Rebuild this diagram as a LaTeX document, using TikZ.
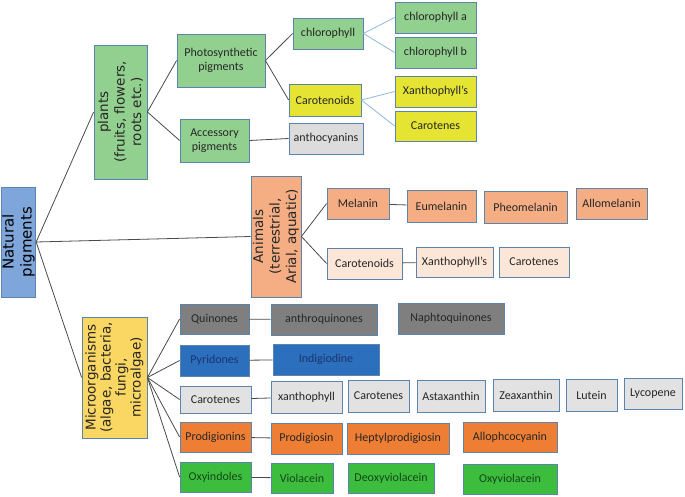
\documentclass[tikz,border=0pt]{standalone}
\usepackage{fontspec}
\setmainfont{Carlito}
\newfontfamily\rotfont{DejaVu Sans}
\usepackage{xcolor}
\usepackage{tikz}

\definecolor{edgeblue}{HTML}{5A84AE}
\definecolor{linkgray}{HTML}{4A4A4A}
\definecolor{linkblue}{HTML}{8DB8DA}
\definecolor{natblue}{HTML}{7FA6DB}
\definecolor{leafgreen}{HTML}{92D08F}
\definecolor{lemon}{HTML}{E6E433}
\definecolor{paleGray}{HTML}{DCDCDC}
\definecolor{peach}{HTML}{F5AE84}
\definecolor{palePeach}{HTML}{FCE6D8}
\definecolor{microYellow}{HTML}{FAD662}
\definecolor{darkGray}{HTML}{7F7F7F}
\definecolor{pyrBlue}{HTML}{2B6FBD}
\definecolor{pyrText}{HTML}{1C3470}
\definecolor{lightGray}{HTML}{E2E2E2}
\definecolor{orangeBox}{HTML}{EE7E33}
\definecolor{greenBox}{HTML}{3DBD3D}
\definecolor{greenText}{HTML}{17451A}

\tikzset{
  pbox/.style={draw=edgeblue, line width=0.8pt, inner sep=1pt, align=center,
    minimum height=31pt, text=black!85, font=\fontsize{12}{14}\selectfont},
  vbox/.style={pbox, rotate=90, font=\rotfont\fontsize{13.5}{16.5}\selectfont},
  link/.style={draw=linkgray, line width=0.8pt},
  sublink/.style={draw=linkblue, line width=0.8pt},
}

\begin{document}
\begin{tikzpicture}[x=1pt,y=-1pt]
\useasboundingbox (0,0) rectangle (685,497);

% root and first level
\node[vbox, fill=natblue, text=black, minimum width=110pt, minimum height=31pt, font=\rotfont\fontsize{15}{18}\selectfont] (nat) at (18.5,242) {Natural\\pigments};
\node[vbox, fill=leafgreen, minimum width=134pt, minimum height=53pt] (plants) at (120.5,112) {plants\\(fruits, flowers,\\roots etc.)};
\node[vbox, fill=peach, minimum width=121pt, minimum height=50pt] (animals) at (276,236.5) {Animals\\(terrestrial,\\Arial, aquatic)};
\node[vbox, fill=microYellow, minimum width=121pt, minimum height=65pt, font=\rotfont\fontsize{13.5}{15}\selectfont] (micro) at (114.5,377.5) {Microorganisms\\(algae, bacteria,\\fungi,\\microalgae)};

% plants
\node[pbox, fill=leafgreen, minimum width=88pt, minimum height=53pt] (photo) at (221,60.5) {Photosynthetic\\pigments};
\node[pbox, fill=leafgreen, minimum width=69pt, minimum height=43pt] (access) at (214.5,140.5) {Accessory\\pigments};
\node[pbox, fill=leafgreen, minimum width=70pt] (chl) at (328,33.5) {chlorophyll};
\node[pbox, fill=lemon, minimum width=72pt, minimum height=32pt] (pcarot) at (325,100) {Carotenoids};
\node[pbox, fill=paleGray, minimum width=74pt] (antho) at (326,138.5) {anthocyanins};
\node[pbox, fill=leafgreen, minimum width=81pt] (chla) at (435.5,17.5) {chlorophyll a};
\node[pbox, fill=leafgreen, minimum width=81pt] (chlb) at (435.5,52.5) {chlorophyll b};
\node[pbox, fill=lemon, minimum width=81pt] (pxan) at (435.5,91.5) {Xanthophyll's};
\node[pbox, fill=lemon, minimum width=81pt, minimum height=30pt] (pcart) at (435.5,126) {Carotenes};

% animals
\node[pbox, fill=peach, minimum width=62pt] (melanin) at (358,203.5) {Melanin};
\node[pbox, fill=peach, minimum width=69pt, minimum height=32pt] (eumel) at (441.5,206) {Eumelanin};
\node[pbox, fill=peach, minimum width=83pt, minimum height=32pt] (pheo) at (525.5,207) {Pheomelanin};
\node[pbox, fill=peach, minimum width=71pt] (allo) at (611.5,203.5) {Allomelanin};
\node[pbox, fill=palePeach, minimum width=75pt] (acarot) at (364.5,263.5) {Carotenoids};
\node[pbox, fill=palePeach, minimum width=77pt, minimum height=30pt] (axan) at (454.5,262) {Xanthophyll's};
\node[pbox, fill=palePeach, minimum width=70pt, minimum height=30pt] (acart) at (534,262) {Carotenes};

% microorganisms
\node[pbox, fill=darkGray, minimum width=69pt, minimum height=30pt] (quin) at (214.5,319) {Quinones};
\node[pbox, fill=darkGray, minimum width=106pt] (anthro) at (324,319.5) {anthroquinones};
\node[pbox, fill=darkGray, minimum width=106pt] (naph) at (451,318.5) {Naphtoquinones};
\node[pbox, fill=pyrBlue, text=pyrText, minimum width=69pt] (pyr) at (214.5,360.5) {Pyridones};
\node[pbox, fill=pyrBlue, text=pyrText, minimum width=106pt] (indi) at (326,359.5) {Indigiodine};
\node[pbox, fill=lightGray, minimum width=71pt, minimum height=27pt] (mcarot) at (215.5,399.5) {Carotenes};
\node[pbox, fill=lightGray, minimum width=71pt, minimum height=32pt] (mxan) at (306.5,397) {xanthophyll};
\node[pbox, fill=lightGray, minimum width=61pt, minimum height=32pt] (mcart) at (378.5,396) {Carotenes};
\node[pbox, fill=lightGray, minimum width=68pt, minimum height=32pt] (asta) at (451,396) {Astaxanthin};
\node[pbox, fill=lightGray, minimum width=66pt, minimum height=32pt] (zea) at (526,395) {Zeaxanthin};
\node[pbox, fill=lightGray, minimum width=51pt, minimum height=32pt] (lut) at (591.5,395) {Lutein};
\node[pbox, fill=lightGray, minimum width=58pt] (lyc) at (653,393.5) {Lycopene};
\node[pbox, fill=orangeBox, minimum width=71pt, minimum height=30pt] (prodn) at (215.5,437) {Prodigionins};
\node[pbox, fill=orangeBox, minimum width=71pt] (prods) at (306.5,438.5) {Prodigiosin};
\node[pbox, fill=orangeBox, minimum width=102pt] (hept) at (398,438.5) {Heptylprodigiosin};
\node[pbox, fill=orangeBox, minimum width=94pt, minimum height=30pt] (allop) at (510,437) {Allophcocyanin};
\node[pbox, fill=greenBox, text=greenText, minimum width=71pt, minimum height=30pt] (oxy) at (215.5,477) {Oxyindoles};
\node[pbox, fill=greenBox, text=greenText, minimum width=62pt, minimum height=30pt] (viol) at (302,478) {Violacein};
\node[pbox, fill=greenBox, text=greenText, minimum width=86pt, minimum height=30pt] (deoxy) at (391,478) {Deoxyviolacein};
\node[pbox, fill=greenBox, text=greenText, minimum width=94pt, minimum height=30pt] (oxyv) at (510,479) {Oxyviolacein};

% connectors
\foreach \n in {plants,animals,micro}
  \draw[link] (nat.south) -- (\n.north);
\draw[link] (plants.south) -- (photo.west);
\draw[link] (plants.south) -- (access.west);
\draw[link] (photo.east) -- (chl.west);
\draw[link] (photo.east) -- (pcarot.west);
\draw[link] (access.east) -- (antho.west);
\draw[sublink] (chl.east) -- (chla.west);
\draw[sublink] (chl.east) -- (chlb.west);
\draw[sublink] (pcarot.east) -- (pxan.west);
\draw[sublink] (pcarot.east) -- (pcart.west);
\draw[link] (animals.south) -- (melanin.west);
\draw[link] (animals.south) -- (acarot.west);
\draw[link] (melanin) -- (eumel);
\draw[link] (acarot) -- (axan);
\foreach \n in {quin,pyr,mcarot,prodn,oxy}
  \draw[link] (micro.south) -- (\n.west);
\draw[link] (quin) -- (anthro);
\draw[link] (pyr) -- (indi);
\draw[link] (mcarot) -- (mxan);
\draw[link] (prodn) -- (prods);
\draw[link] (oxy) -- (viol);
\end{tikzpicture}
\end{document}
